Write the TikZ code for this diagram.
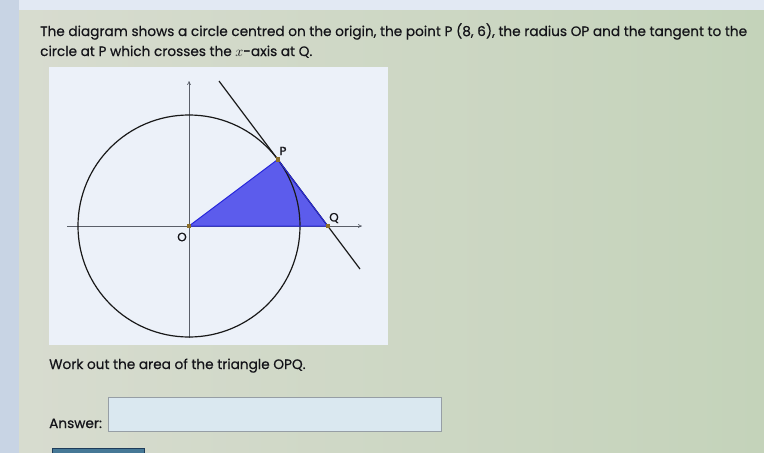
\documentclass[tikz,border=0pt]{standalone}
\usepackage{fontspec}
\setmainfont{Poppins}[FakeBold=0.6]
\usetikzlibrary{arrows.meta}
\definecolor{bgleft}{RGB}{216,220,208}
\definecolor{bgright}{RGB}{196,211,186}
\definecolor{stripblue}{RGB}{200,212,228}
\definecolor{topband}{RGB}{226,233,243}
\definecolor{panel}{RGB}{236,241,249}
\definecolor{tri}{RGB}{92,92,236}
\definecolor{triedge}{RGB}{40,40,220}
\definecolor{ptcol}{RGB}{140,110,40}
\definecolor{axiscol}{RGB}{90,95,105}
\definecolor{ansfill}{RGB}{218,232,240}
\definecolor{ansdraw}{RGB}{150,158,165}
\definecolor{txt}{RGB}{20,20,25}
\definecolor{btnfill}{RGB}{70,120,150}
\definecolor{btndraw}{RGB}{30,60,90}
\tikzset{
  qtext/.style={anchor=base west, inner sep=0pt, text=txt, font=\fontsize{13.65}{16}\selectfont\addfontfeatures{FakeBold=0.5}},
  axisline/.style={draw=axiscol, line width=0.6pt, -{To[length=4pt,width=4pt]}},
  curve/.style={draw=black!90, line width=1.2pt},
  ptmark/.style={fill=ptcol, minimum size=4.5pt, inner sep=0pt, rectangle},
  ptlabel/.style={inner sep=0pt, text=txt, font=\fontsize{12}{14}\selectfont\addfontfeatures{FakeBold=0.8}}
}
\begin{document}
\begin{tikzpicture}[x=1pt,y=-1pt]
\useasboundingbox (0,0) rectangle (764,453);
% background
\shade[left color=bgleft, right color=bgright] (0,0) rectangle (764,453);
\fill[topband] (0,0) rectangle (764,10);
\fill[stripblue] (0,0) rectangle (19,453);
% texts
\node[qtext] (l1) at (40,36) {The diagram shows a circle centred on the origin, the point P (8, 6), the radius OP and the tangent to the};
\node[qtext] (l2) at (40,56) {circle at P which crosses the $x$-axis at Q.};
% diagram panel
\fill[panel] (49,67) rectangle (388,345);
\coordinate (O) at (189,226);
\coordinate (P) at (277.8,159.4);
\coordinate (Q) at (327.75,226);
\coordinate (xa) at (67,226);
\coordinate (xb) at (362,226);
\coordinate (ya) at (189,338);
\coordinate (yb) at (189,81);
\coordinate (t1) at (219,81);
\coordinate (t2) at (360,269);
\fill[tri] (O) -- (P) -- (Q) -- cycle;
\draw[axisline] (xa) -- (xb);
\draw[axisline] (ya) -- (yb);
\draw[curve] (O) circle[radius=111];
\draw[curve] (t1) -- (t2);
\draw[triedge, line width=1pt, line join=round] (O) -- (P) -- (Q) -- cycle;
\node[ptmark] (mO) at (O) {};
\node[ptmark] (mP) at (P) {};
\node[ptmark] (mQ) at (Q) {};
\node[ptlabel] (lP) at (283,151) {P};
\node[ptlabel] (lQ) at (334,218) {Q};
\node[ptlabel] (lO) at (182,237) {O};
% question
\node[qtext] (wq) at (49,369) {Work out the area of the triangle OPQ.};
\node[qtext] (ans) at (49,428) {Answer:};
\node[draw=ansdraw, fill=ansfill, line width=0.8pt, minimum width=333pt, minimum height=34pt, anchor=north west, inner sep=0pt] (box) at (108,397) {};
\node[draw=btndraw, fill=btnfill, line width=1pt, minimum width=92pt, minimum height=14pt, anchor=north west, inner sep=0pt] (btn) at (52,448) {};
\end{tikzpicture}
\end{document}
